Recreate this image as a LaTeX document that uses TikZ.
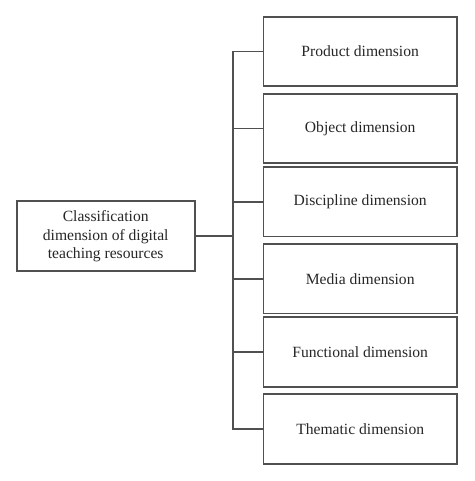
\documentclass[tikz,border=0pt]{standalone}
\usepackage{fontspec}
\setmainfont{Liberation Serif}
\definecolor{linegray}{HTML}{505050}
\definecolor{textgray}{HTML}{262626}
\tikzset{
  dimbox/.style={draw=linegray, line width=1.7pt, rectangle, minimum width=193.7pt, minimum height=69.6pt, inner sep=0pt, text=textgray, font=\fontsize{15.6}{18.7}\selectfont},
  rootbox/.style={draw=linegray, line width=1.7pt, rectangle, minimum width=178pt, minimum height=70pt, inner sep=0pt, text=textgray, align=center, font=\fontsize{15.6}{18.7}\selectfont},
  link/.style={draw=linegray, line width=1.7pt}
}
\begin{document}
\begin{tikzpicture}[x=1pt,y=-1pt]
\useasboundingbox (0,0) rectangle (474,481);
\node[rootbox] (root) at (105.7,236.3) {Classification\\dimension of digital\\teaching resources};
\node[dimbox] (b1) at (360.2,51.5) {Product dimension};
\node[dimbox] (b2) at (360.2,128.5) {Object dimension};
\node[dimbox] (b3) at (360.2,201.8) {Discipline dimension};
\node[dimbox] (b4) at (360.2,278.7) {Media dimension};
\node[dimbox] (b5) at (360.2,352.0) {Functional dimension};
\node[dimbox] (b6) at (360.2,429.0) {Thematic dimension};
\coordinate (trunk) at (233.3,236.3);
\draw[link] (root.east) -- (trunk);
\draw[link] (b1.west) -| (trunk) |- (b6.west);
\draw[link] (b2.west) -- (b2.west -| trunk);
\draw[link] (b3.west) -- (b3.west -| trunk);
\draw[link] (b4.west) -- (b4.west -| trunk);
\draw[link] (b5.west) -- (b5.west -| trunk);
\end{tikzpicture}
\end{document}
